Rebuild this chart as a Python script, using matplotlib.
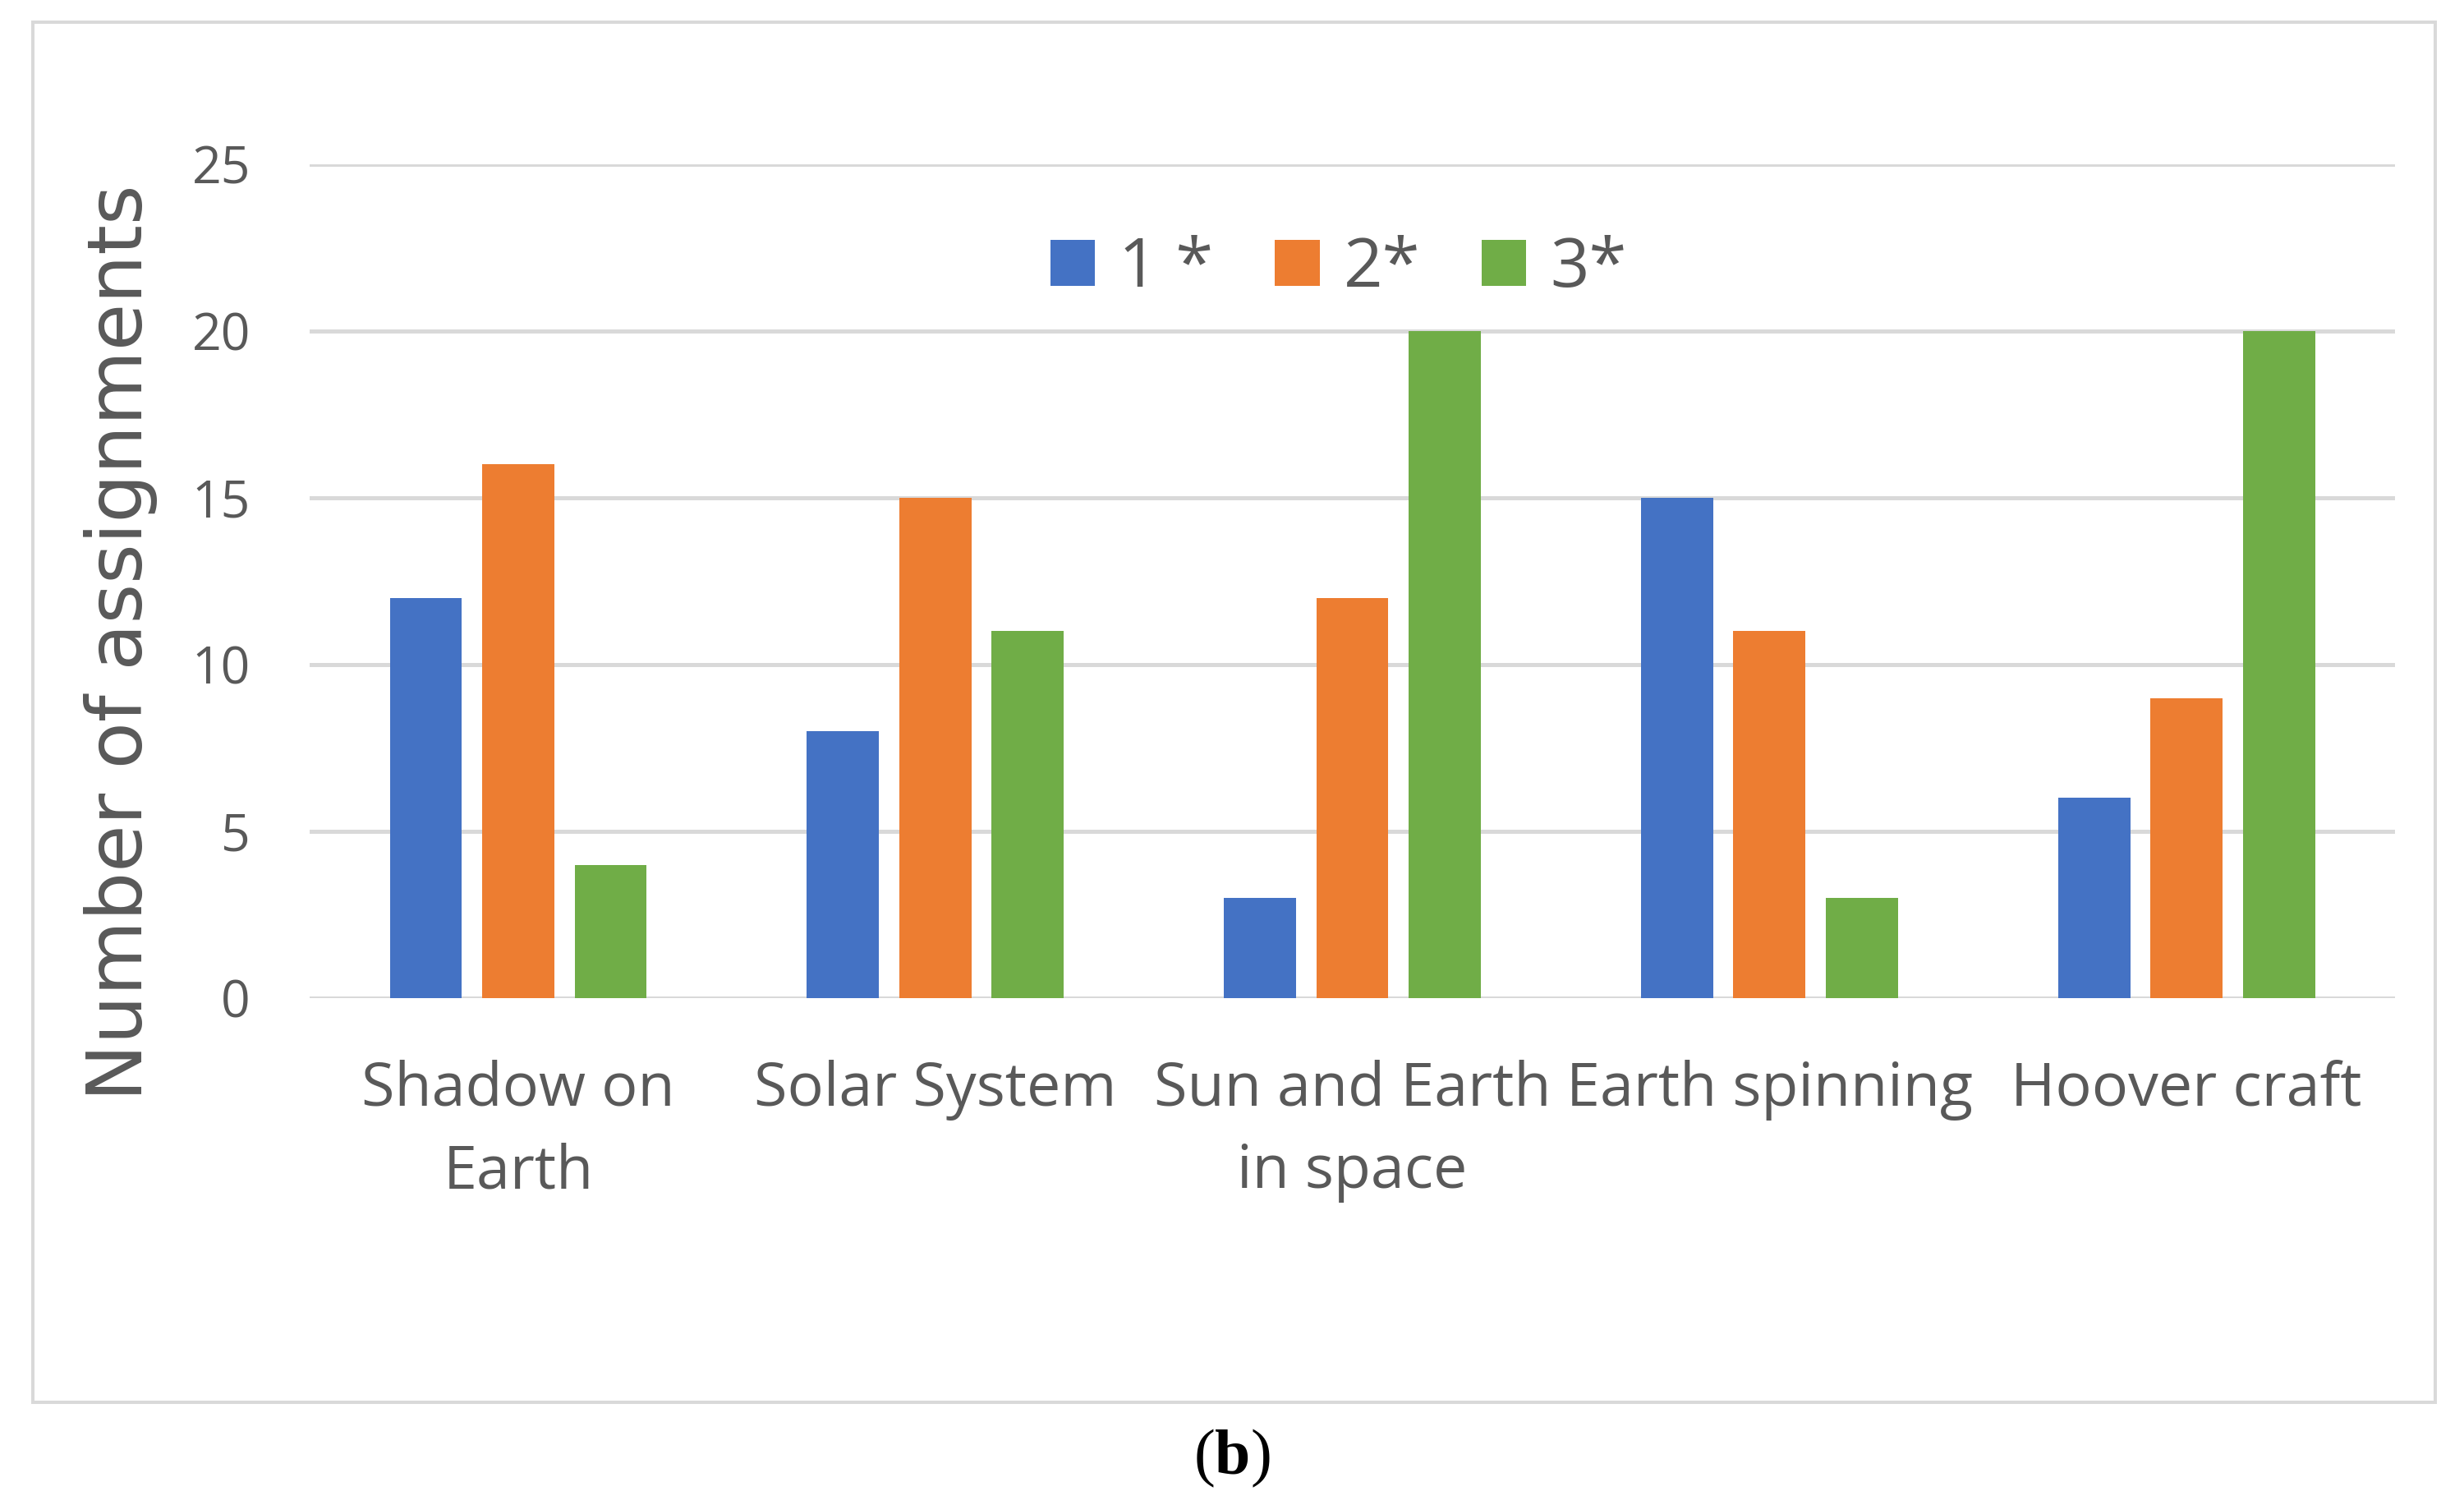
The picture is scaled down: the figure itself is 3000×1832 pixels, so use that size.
import numpy as np
import matplotlib.pyplot as plt
from matplotlib.patches import Rectangle

plt.rcParams['mathtext.fontset'] = 'custom'
plt.rcParams['mathtext.rm'] = 'Liberation Serif'
plt.rcParams['mathtext.bf'] = 'Liberation Serif:bold'

# data
categories = ['Shadow on\nEarth', 'Solar System', 'Sun and Earth\nin space', 'Earth spinning', 'Hoover craft']
one_star = [12, 8, 3, 15, 6]
two_star = [16, 15, 12, 11, 9]
three_star = [4, 11, 20, 3, 20]
series_names = ['1 *', '2*', '3*']
colors = ['#4472C4', '#ED7D31', '#70AD47']

text_grey = '#595959'
grid_grey = '#D9D9D9'

fig = plt.figure(figsize=(15, 9.16), dpi=200)
ax = fig.add_axes([0.1257, 0.3368, 0.8463, 0.554])

x = np.arange(len(categories))
width = 0.173
step = 0.2215
for i, (vals, name) in enumerate(zip([one_star, two_star, three_star], series_names)):
    ax.bar(x + (i - 1) * step, vals, width, color=colors[i], label=name, zorder=3)

ax.set_xlim(-0.5, len(categories) - 0.5)
ax.set_ylim(0, 25)
ax.set_yticks([0, 5, 10, 15, 20, 25])
ax.set_xticks(x)
ax.set_xticklabels(categories, fontfamily='Open Sans', fontsize=26.5, color=text_grey, linespacing=1.47)
for lab in ax.get_yticklabels():
    lab.set_fontfamily('Open Sans')
    lab.set_fontsize(22.5)
    lab.set_color(text_grey)
ax.tick_params(axis='both', length=0)
ax.tick_params(axis='y', pad=26)
ax.tick_params(axis='x', pad=27)
ax.grid(axis='y', color=grid_grey, linewidth=1.8, zorder=0)
for s in ax.spines.values():
    s.set_visible(False)

# y label placed by hand (it sits lower than the axes centre)
fig.text(0.034, 0.573, 'Number of assignments', rotation=90, ha='left', va='center',
         fontfamily='DejaVu Sans', fontsize=33.6, color=text_grey)

leg = ax.legend(loc='center', bbox_to_anchor=(0.5433, 0.821), bbox_transform=fig.transFigure,
                ncol=3, frameon=False, handlelength=0.65, handleheight=0.65,
                handletextpad=0.35, columnspacing=0.9,
                prop={'family': 'Open Sans', 'size': 30})
for t in leg.get_texts():
    t.set_color(text_grey)

# outer frame of the chart
fig.patches.append(Rectangle((0.0133, 0.0682), 0.975, 0.9171, transform=fig.transFigure,
                             fill=False, edgecolor=grid_grey, linewidth=1.45))

fig.text(0.5, 0.031, r'$\mathrm{(}\mathbf{b}\mathrm{)}$', ha='center', va='center',
         fontsize=28, color='black')

fig.savefig('out.png', dpi=200, facecolor='white')
